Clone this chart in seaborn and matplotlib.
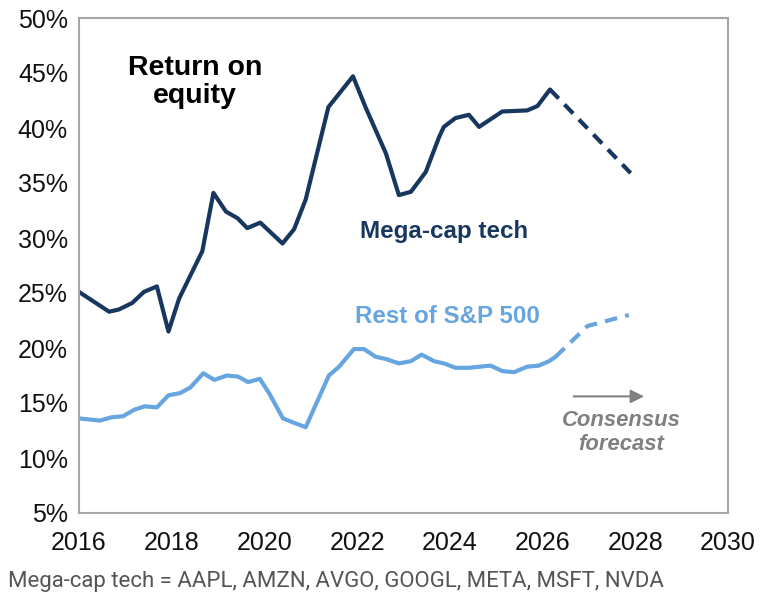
"""
Return on equity: mega-cap tech vs rest of S&P 500, with consensus forecast.
"""
import pandas as pd
import matplotlib.pyplot as plt
import seaborn as sns

# =========================
# DATA (% ROE)
# =========================
tech_years = [2016.0, 2016.65, 2016.86, 2017.15, 2017.40, 2017.68, 2017.93, 2018.16,
              2018.66, 2018.90, 2019.17, 2019.42, 2019.63, 2019.91, 2020.39, 2020.64,
              2020.89, 2021.38, 2021.91, 2022.18, 2022.62, 2022.90, 2023.16, 2023.48,
              2023.77, 2023.87, 2024.12, 2024.41, 2024.63, 2025.13, 2025.67, 2025.89,
              2026.16]
tech_roe = [25.1, 23.3, 23.5, 24.1, 25.1, 25.6, 21.5, 24.5,
            28.8, 34.1, 32.4, 31.8, 30.9, 31.4, 29.5, 30.8,
            33.5, 41.9, 44.7, 41.9, 37.7, 33.9, 34.2, 36.0,
            39.2, 40.1, 40.9, 41.2, 40.1, 41.5, 41.6, 42.0,
            43.5]
tech_fc_years = [2026.16, 2027.90]
tech_fc_roe = [43.5, 35.9]

rest_years = [2016.0, 2016.45, 2016.70, 2016.95, 2017.20, 2017.42, 2017.68, 2017.93,
              2018.18, 2018.40, 2018.68, 2018.92, 2019.19, 2019.43, 2019.65, 2019.90,
              2020.10, 2020.40, 2020.64, 2020.89, 2021.39, 2021.61, 2021.93, 2022.15,
              2022.40, 2022.62, 2022.90, 2023.16, 2023.39, 2023.66, 2023.87, 2024.12,
              2024.41, 2024.88, 2025.13, 2025.38, 2025.67, 2025.92, 2026.14, 2026.28]
rest_roe = [13.6, 13.4, 13.7, 13.8, 14.4, 14.7, 14.6, 15.7,
            15.9, 16.4, 17.7, 17.1, 17.5, 17.4, 16.9, 17.2,
            15.9, 13.6, 13.2, 12.8, 17.5, 18.3, 19.9, 19.9,
            19.2, 19.0, 18.6, 18.8, 19.4, 18.8, 18.6, 18.2,
            18.2, 18.4, 17.9, 17.8, 18.3, 18.4, 18.8, 19.2]
rest_fc_years = [2026.28, 2026.97, 2027.86]
rest_fc_roe = [19.2, 22.0, 23.0]

y_ticks = [5, 10, 15, 20, 25, 30, 35, 40, 45, 50]
x_ticks = [2016, 2018, 2020, 2022, 2024, 2026, 2028, 2030]

# =========================
# COLOURS
# =========================
DARK = '#17375e'
LIGHT = '#66a5df'
GREY = '#808080'

sns.set_style('white')
plt.rcParams['font.family'] = ['Liberation Sans', 'DejaVu Sans']

fig = plt.figure(figsize=(7.68, 6.02), dpi=100)
ax = fig.add_axes([79 / 768, 1 - 513 / 602, 649 / 768, 495 / 602])

df_tech = pd.DataFrame({'any': tech_years, 'roe': tech_roe})
df_tech_fc = pd.DataFrame({'any': tech_fc_years, 'roe': tech_fc_roe})
df_rest = pd.DataFrame({'any': rest_years, 'roe': rest_roe})
df_rest_fc = pd.DataFrame({'any': rest_fc_years, 'roe': rest_fc_roe})

sns.lineplot(data=df_tech, x='any', y='roe', ax=ax, color=DARK, lw=3)
sns.lineplot(data=df_tech_fc, x='any', y='roe', ax=ax, color=DARK, lw=3,
             dashes=False, linestyle=(0, (3, 2)))
sns.lineplot(data=df_rest, x='any', y='roe', ax=ax, color=LIGHT, lw=3)
sns.lineplot(data=df_rest_fc, x='any', y='roe', ax=ax, color=LIGHT, lw=3,
             dashes=False, linestyle=(0, (3, 2)))

ax.set_xlim(2016, 2030)
ax.set_ylim(5, 50)
ax.set_xticks(x_ticks)
ax.set_yticks(y_ticks)
ax.set_yticklabels([f"{v}%" for v in y_ticks])
ax.tick_params(axis='both', length=0, labelsize=18, colors='#111111')
ax.tick_params(axis='x', pad=13)
ax.tick_params(axis='y', pad=8)
ax.set_xlabel('')
ax.set_ylabel('')
for s in ax.spines.values():
    s.set_color('#a6a6a6')
    s.set_linewidth(1.5)

# =========================
# ANNOTATIONS
# =========================
ax.text(2018.5, 44.2, "Return on\nequity", ha='center', va='center',
        fontsize=20.5, fontweight='bold', color='black', linespacing=1.1)
ax.text(2023.87, 30.6, "Mega-cap tech", ha='center', va='center',
        fontsize=17.4, fontweight='bold', color=DARK)
ax.text(2023.94, 22.9, "Rest of S&P 500", ha='center', va='center',
        fontsize=17.4, fontweight='bold', color=LIGHT)
ax.text(2027.69, 12.3, "Consensus\nforecast", ha='center', va='center',
        fontsize=15.8, fontweight='bold', style='italic', color=GREY, linespacing=1.15)
ax.annotate('', xy=(2028.25, 15.6), xytext=(2026.61, 15.6),
            arrowprops=dict(arrowstyle='-|>', color=GREY, lw=1.5, mutation_scale=20))

fig.text(8 / 768, 1 - 582 / 602, "Mega-cap tech = AAPL, AMZN, AVGO, GOOGL, META, MSFT, NVDA",
         ha='left', va='center', fontsize=16, color='#555555', family=['Roboto', 'DejaVu Sans'])

plt.savefig('out.png', dpi=100)
plt.close()
